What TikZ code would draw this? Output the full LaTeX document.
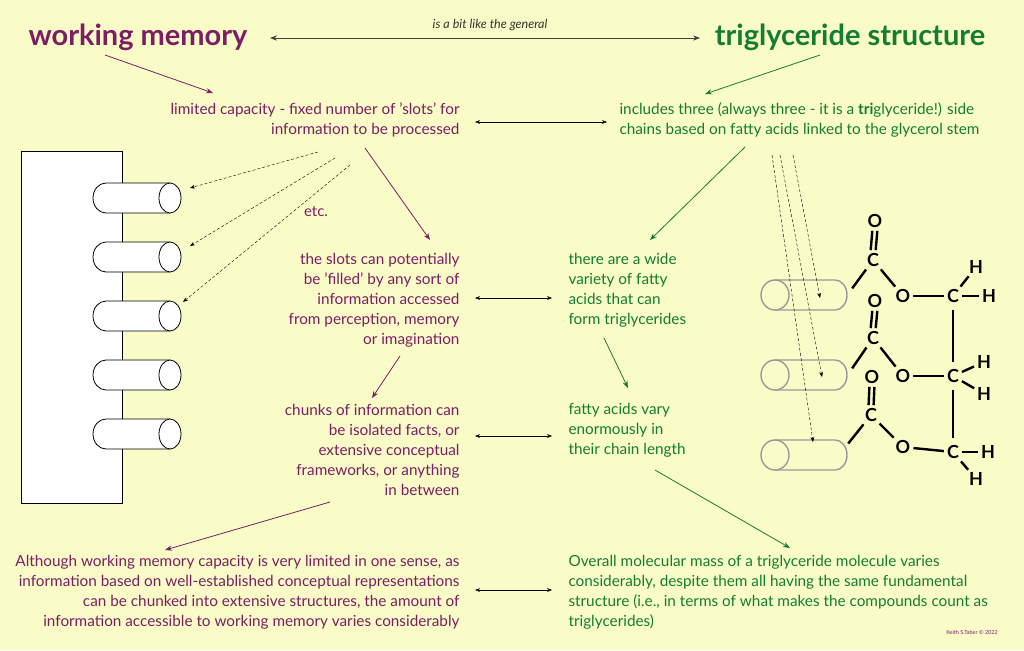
\documentclass[tikz,border=0pt]{standalone}
\usepackage{fontspec}
\setmainfont{Lato}
\usetikzlibrary{arrows.meta}
\definecolor{bg}{RGB}{250,252,200}
\definecolor{wm}{RGB}{125,30,100}
\definecolor{tg}{RGB}{20,125,50}
\tikzset{
  wmtext/.style = {text = wm, font = \fontsize{15.3}{20}\selectfont, align = right, anchor = east},
  tgtext/.style = {text = tg, font = \fontsize{15.3}{20}\selectfont, align = left, anchor = west},
  wmlink/.style = {wm, thick, -{Stealth[length = 7pt]}},
  tglink/.style = {tg, thick, -{Stealth[length = 7pt]}},
  pairlink/.style = {black, {Stealth[length = 5pt]}-{Stealth[length = 5pt]}},
  slotlink/.style = {black, densely dashed, -{Stealth[length = 5pt]}},
  atom/.style = {font = \fontsize{18}{18}\selectfont\bfseries, inner sep = 1pt},
  bond/.style = {black, line width = 2.4pt, shorten > = 2pt, shorten < = 2pt},
  slot/.style = {black, thick, fill = white},
  chain/.style = {gray!80, line width = 1.4pt}
}
\begin{document}
\begin{tikzpicture}[x = 1pt, y = -1pt]
\fill[bg] (0, 0) rectangle (1024, 650);
% Titles
\node[text = wm, font = \fontsize{29}{29}\selectfont\bfseries] (wmtitle) at (138, 37) {working memory};
\node[text = tg, font = \fontsize{29}{29}\selectfont\bfseries] (tgtitle) at (850, 37) {triglyceride structure};
\node[font = \fontsize{12.5}{12.5}\selectfont\itshape, text = black!80] (like) at (490, 25) {is a bit like the general};
\draw[black!75, thick, {Stealth[length = 7pt]}-{Stealth[length = 7pt]}] (270, 38) -- (700, 38);
% Working memory side
\node[wmtext] (wmA) at (463, 120) {limited capacity - fixed number of 'slots' for\\information to be processed};
\node[wmtext] (wmB) at (463, 300) {the slots can potentially\\be 'filled' by any sort of\\information accessed\\from perception, memory\\or imagination};
\node[wmtext] (wmC) at (463, 450) {chunks of information can\\be isolated facts, or\\extensive conceptual\\frameworks, or anything\\in between};
\node[wmtext] (wmD) at (463, 592) {Although working memory capacity is very limited in one sense, as\\information based on well-established conceptual representations\\can be chunked into extensive structures, the amount of\\information accessible to working memory varies considerably};
\node[text = wm, font = \fontsize{15}{15}\selectfont] (etc) at (316, 212) {etc.};
% Triglyceride side
\node[tgtext] (tgA) at (616, 120) {includes three (always three - it is a \textbf{tri}glyceride!) side\\chains based on fatty acids linked to the glycerol stem};
\node[tgtext] (tgB) at (565, 290) {there are a wide\\variety of fatty\\acids that can\\form triglycerides};
\node[tgtext] (tgC) at (565, 430) {fatty acids vary\\enormously in\\their chain length};
\node[tgtext] (tgD) at (565, 592) {Overall molecular mass of a triglyceride molecule varies\\considerably, despite them all having the same fundamental\\structure (i.e., in terms of what makes the compounds count as\\triglycerides)};
\node[text = wm, font = \fontsize{5.5}{5.5}\selectfont] (credit) at (972, 632) {Keith S.Taber © 2022};
% Flow arrows
\draw[wmlink] (105, 55) -- (213, 93);
\draw[wmlink] (365, 148) -- (430, 240);
\draw[wmlink] (400, 356) -- (372, 398);
\draw[wmlink] (330, 502) -- (165, 550);
\draw[tglink] (820, 55) -- (705, 94);
\draw[tglink] (745, 147) -- (650, 240);
\draw[tglink] (604, 338) -- (628, 388);
\draw[tglink] (655, 470) -- (790, 548);
% Pairings
\draw[pairlink] (475, 122) -- (607, 122);
\draw[pairlink] (475, 298) -- (552, 298);
\draw[pairlink] (475, 436) -- (552, 436);
\draw[pairlink] (475, 590) -- (552, 590);
% Memory block with slots
\draw[slot] (21, 151) rectangle (122, 503);
\foreach \y in {198, 257, 316, 375, 434} {
  \draw[slot] (170, \y - 15) -- (106, \y - 15) arc (270 : 90 : 13 and 15) -- (170, \y + 15);
  \draw[slot] (170, \y) ellipse (11 and 15);
}
\draw[slotlink] (318, 152) -- (190, 188);
\draw[slotlink] (335, 158) -- (190, 246);
\draw[slotlink] (350, 165) -- (183, 302);
% Side chains
\foreach \y in {295, 375, 455} {
  \draw[chain] (775, \y - 15) -- (835, \y - 15) arc (270 : 450 : 12 and 15) -- (775, \y + 15);
  \draw[chain] (775, \y) ellipse (14 and 15);
}
\draw[slotlink] (793, 155) -- (820, 298);
\draw[slotlink] (780, 155) -- (822, 377);
\draw[slotlink] (772, 155) -- (813, 442);
% Glycerol stem
\node[atom] (o1) at (875, 221) {O};
\node[atom] (c1) at (873, 260) {C};
\node[atom] (e1) at (903, 296) {O};
\node[atom] (g1) at (953, 296) {C};
\node[atom] (h1) at (976, 267) {H};
\node[atom] (h2) at (989, 296) {H};
\node[atom] (o2) at (875, 301) {O};
\node[atom] (c2) at (873, 338) {C};
\node[atom] (e2) at (903, 376) {O};
\node[atom] (g2) at (953, 376) {C};
\node[atom] (h3) at (984, 362) {H};
\node[atom] (h4) at (984, 394) {H};
\node[atom] (o3) at (872, 377) {O};
\node[atom] (c3) at (871, 415) {C};
\node[atom] (e3) at (903, 447) {O};
\node[atom] (g3) at (953, 452) {C};
\node[atom] (h5) at (988, 452) {H};
\node[atom] (h6) at (976, 479) {H};
\coordinate (k1) at (851, 290);
\coordinate (k2) at (851, 370);
\coordinate (k3) at (847, 445);
\foreach \n in {1, 2, 3} {
  \draw[bond] ([xshift = -2.5pt]c\n.north) -- ([xshift = -2.5pt]o\n.south);
  \draw[bond] ([xshift = 2.5pt]c\n.north) -- ([xshift = 2.5pt]o\n.south);
  \draw[bond] (c\n) -- (k\n);
  \draw[bond] (c\n) -- (e\n);
  \draw[bond] (e\n) -- (g\n);
}
\draw[bond] (g1) -- (h1);
\draw[bond] (g1) -- (h2);
\draw[bond] (g2) -- (h3);
\draw[bond] (g2) -- (h4);
\draw[bond] (g3) -- (h5);
\draw[bond] (g3) -- (h6);
\draw[bond, shorten > = 6pt, shorten < = 6pt] (g1) -- (g2);
\draw[bond, shorten > = 6pt, shorten < = 6pt] (g2) -- (g3);
\end{tikzpicture}
\end{document}
